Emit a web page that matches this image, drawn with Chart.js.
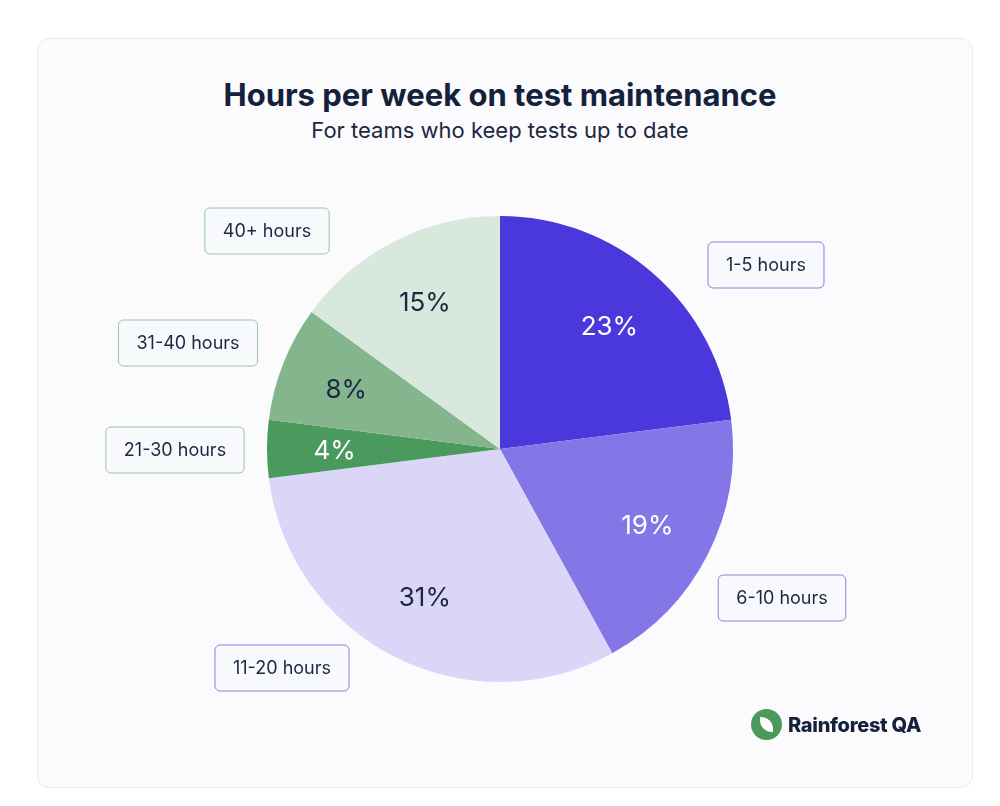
<!DOCTYPE html>
<html>
<head>
<meta charset="utf-8">
<script src="https://cdn.jsdelivr.net/npm/chart.js@4"></script>
<style>
  body { margin: 0; width: 1000px; height: 806px; background: #fff; font-family: Inter, sans-serif; position: relative; overflow: hidden; }
  .card { position: absolute; left: 37px; top: 38px; width: 934px; height: 748px; background: #fbfafd; border: 1px solid #ece7f3; border-radius: 12px; }
  h1 { position: absolute; top: 76px; left: 0; width: 1000px; margin: 0; text-align: center; font-size: 31px; font-weight: 700; color: #14213b; }
  .sub { position: absolute; top: 117px; left: 0; width: 1000px; text-align: center; font-size: 22px; color: #1c2740; }
  canvas { position: absolute; left: 0; top: 0; }
  .logo { position: absolute; left: 751px; top: 709px; display: flex; align-items: center; font-weight: 800; font-size: 20px; color: #14213b; letter-spacing: -0.3px; }
  .logo span.dot { width: 31px; height: 31px; border-radius: 50%; background: #4a9a5e; margin-right: 6px; position: relative; }
  .logo span.dot::after { content: ""; position: absolute; left: 9px; top: 8px; width: 13px; height: 15px; background: #fff; border-radius: 0 12px 0 12px; }
</style>
</head>
<body>
<div class="card"></div>
<h1>Hours per week on test maintenance</h1>
<div class="sub">For teams who keep tests up to date</div>
<canvas id="pie" width="1000" height="806"></canvas>
<div class="logo"><span class="dot"></span>Rainforest QA</div>
<script>
const categories = ["1-5 hours", "6-10 hours", "11-20 hours", "21-30 hours", "31-40 hours", "40+ hours"];
const shares = [23, 19, 31, 4, 8, 15];
const sliceColors = ["#4b38dc", "#8476e7", "#dbd5f7", "#4a9a5e", "#84b58d", "#d9e8dd"];
const valueColors = ["#ffffff", "#ffffff", "#1c2740", "#ffffff", "#1c2740", "#1c2740"];
const boxBorders = ["#8a80d9", "#8a80d9", "#8a80d9", "#9ac4a5", "#9ac4a5", "#9ac4a5"];
// label box centre offsets from the pie centre
const boxOffsets = [[266, -184], [282, 149], [-218, 219], [-325, 1], [-312, -106], [-233, -218]];

const labelPlugin = {
  id: "labels",
  afterDatasetsDraw(chart) {
    const ctx = chart.ctx;
    const arcs = chart.getDatasetMeta(0).data;
    ctx.save();
    ctx.textAlign = "center";
    ctx.textBaseline = "middle";
    arcs.forEach((arc, i) => {
      const mid = (arc.startAngle + arc.endAngle) / 2;
      const r = arc.outerRadius * 0.71;
      ctx.font = "26px Inter";
      ctx.fillStyle = valueColors[i];
      ctx.fillText(shares[i] + "%", arc.x + Math.cos(mid) * r, arc.y + Math.sin(mid) * r + 2);

      ctx.font = "18px Inter";
      const w = ctx.measureText(categories[i]).width + 36;
      const h = 46;
      const cx = arc.x + boxOffsets[i][0], cy = arc.y + boxOffsets[i][1];
      ctx.beginPath();
      ctx.roundRect(cx - w / 2, cy - h / 2, w, h, 5);
      ctx.fillStyle = "#f7f9fc";
      ctx.fill();
      ctx.strokeStyle = boxBorders[i];
      ctx.lineWidth = 1;
      ctx.stroke();
      ctx.fillStyle = "#1c2740";
      ctx.fillText(categories[i], cx, cy + 1);
    });
    ctx.restore();
  }
};

new Chart(document.getElementById("pie"), {
  type: "pie",
  data: {
    labels: categories,
    datasets: [{ data: shares, backgroundColor: sliceColors, borderWidth: 0 }]
  },
  options: {
    responsive: false,
    animation: false,
    layout: { padding: { top: 216, bottom: 124, left: 267, right: 267 } },
    plugins: { legend: { display: false }, tooltip: { enabled: false } }
  },
  plugins: [labelPlugin]
});
</script>
</body>
</html>
